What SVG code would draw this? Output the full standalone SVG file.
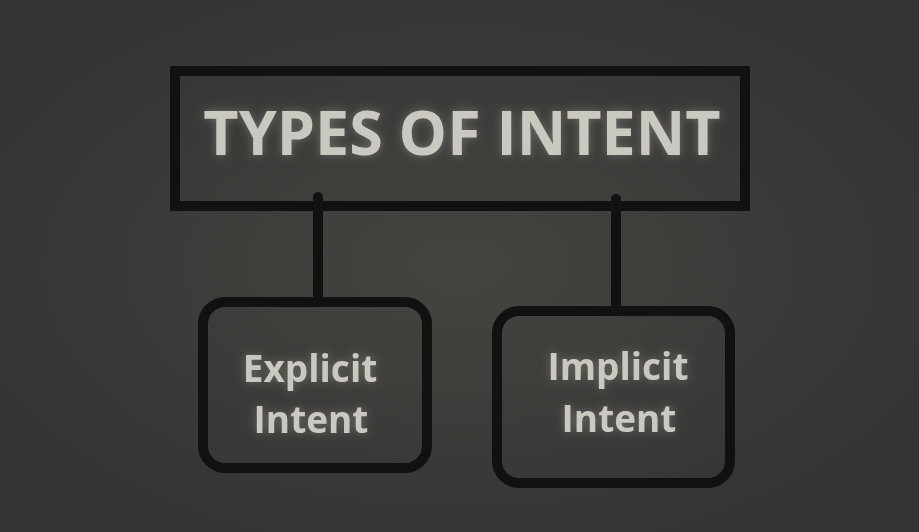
<svg xmlns="http://www.w3.org/2000/svg" width="919" height="532" viewBox="0 0 919 532">
<defs>
<radialGradient id="bg" cx="50%" cy="50%" r="60%">
<stop offset="0" stop-color="#444441"/>
<stop offset="1" stop-color="#333331"/>
</radialGradient>
<filter id="glow" x="-20%" y="-40%" width="140%" height="180%">
<feGaussianBlur in="SourceAlpha" stdDeviation="5" result="b"/>
<feFlood flood-color="#e8e6dc" flood-opacity="0.3"/>
<feComposite in2="b" operator="in" result="g"/>
<feMerge><feMergeNode in="g"/><feMergeNode in="SourceGraphic"/></feMerge>
</filter>
<style>
.box{fill:none;stroke:#111110;stroke-width:10}
.line{stroke:#111110;stroke-width:10;stroke-linecap:round}
.t{font-family:"Open Sans","Noto Sans",sans-serif;font-weight:bold;fill:#c9c8c1;text-anchor:middle}
</style>
</defs>
<rect width="919" height="532" fill="url(#bg)"/>
<g id="title">
<rect class="box" x="175" y="71" width="570" height="135"/>
<text class="t" x="462" y="155" font-size="61" filter="url(#glow)">TYPES OF INTENT</text>
</g>
<g id="connectors">
<line class="line" x1="318" y1="197" x2="318" y2="298"/>
<line class="line" x1="616" y1="199" x2="616" y2="304"/>
</g>
<g id="explicit">
<rect class="box" x="203" y="302" width="224" height="166" rx="22"/>
<text class="t" x="310" y="382" font-size="37" filter="url(#glow)">Explicit</text>
<text class="t" x="311" y="433" font-size="37" filter="url(#glow)">Intent</text>
</g>
<g id="implicit">
<rect class="box" x="497" y="311" width="233" height="172" rx="22"/>
<text class="t" x="618" y="380" font-size="37" filter="url(#glow)">Implicit</text>
<text class="t" x="619" y="432" font-size="37" filter="url(#glow)">Intent</text>
</g>
</svg>
